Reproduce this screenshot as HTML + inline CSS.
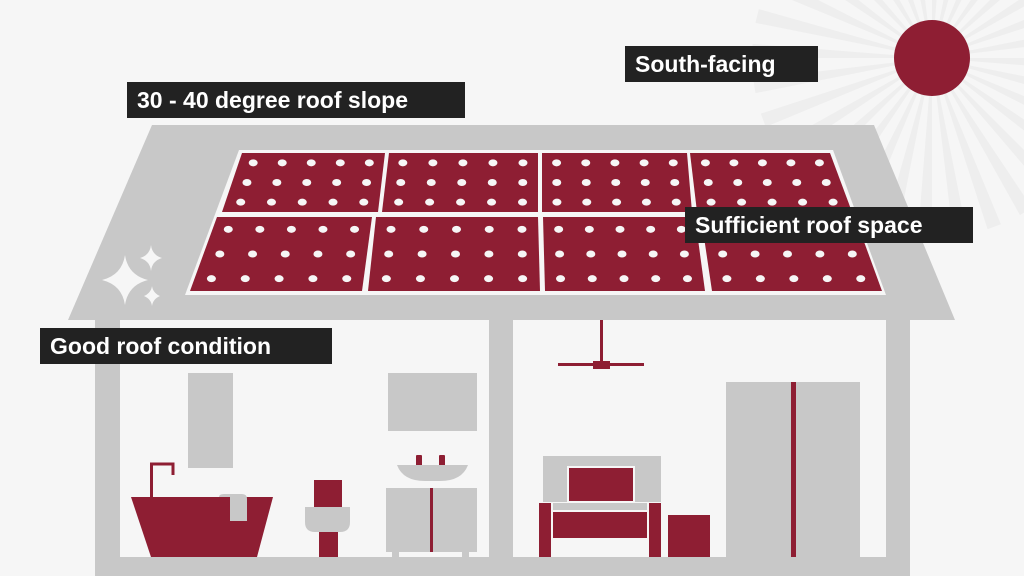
<!DOCTYPE html>
<html><head><meta charset="utf-8"><style>
html,body{margin:0;padding:0;background:#f6f6f6;}
body{width:1024px;height:576px;overflow:hidden;position:relative;font-family:"Liberation Sans",sans-serif;}
.lbl{position:absolute;background:#222;color:#fff;font-weight:bold;font-size:23px;line-height:36px;height:36px;padding:0 10px;box-sizing:border-box;white-space:nowrap;}
</style></head><body>
<svg id="s" width="1024" height="576" viewBox="0 0 1024 576" style="position:absolute;left:0;top:0">
<g id="rays" fill="#eeeeee"></g>
<circle cx="932" cy="58" r="38" fill="#8e1e33"/>
<polygon points="152,125 874,125 955,320 68,320" fill="#c8c8c8"/>
<rect x="95" y="318" width="25" height="258" fill="#c8c8c8"/>
<rect x="489" y="318" width="24" height="258" fill="#c8c8c8"/>
<rect x="886" y="318" width="24" height="258" fill="#c8c8c8"/>
<rect x="95" y="557" width="815" height="19" fill="#c8c8c8"/>
<polygon points="239,150 833,150 886,295 185,295" fill="#f6f6f6"/>
<g id="panels"></g>
<g fill="#f6f6f6">
<path d="M125,255 Q128,275 148,280 Q128,285 125,305 Q122,285 102,280 Q122,275 125,255Z"/>
<path d="M151,245 Q152,255 162,258 Q152,261 151,271 Q150,261 140,258 Q150,255 151,245Z"/>
<path d="M152,286 Q153,293 160,296 Q153,299 152,306 Q151,299 144,296 Q151,293 152,286Z"/>
</g>
<rect x="188" y="373" width="45" height="95" fill="#c8c8c8"/>
<polygon points="131,497 273,497 257,557 151,557" fill="#8e1e33"/>
<path d="M151.5,497 V464 H173 V475" stroke="#8e1e33" stroke-width="3" fill="none"/>
<path d="M219,497 Q219,494 224,494 H242 Q247,494 247,499 V521 H230 V497Z" fill="#c8c8c8"/>
<rect x="314" y="480" width="28" height="28" fill="#8e1e33"/>
<path d="M305,507 H350 V522 Q350,532 340,532 H315 Q305,532 305,522Z" fill="#c8c8c8"/>
<rect x="319" y="532" width="19" height="25" fill="#8e1e33"/>
<rect x="388" y="373" width="89" height="58" fill="#c8c8c8"/>
<rect x="416" y="455" width="6" height="11" rx="1" fill="#8e1e33"/>
<rect x="439" y="455" width="6" height="11" rx="1" fill="#8e1e33"/>
<path d="M397,465 H468 Q462,481 440,481 H425 Q403,481 397,465Z" fill="#c8c8c8"/>
<rect x="386" y="488" width="91" height="64" fill="#c8c8c8"/>
<rect x="392" y="551" width="7" height="6" fill="#c8c8c8"/>
<rect x="462" y="551" width="7" height="6" fill="#c8c8c8"/>
<rect x="430" y="488" width="3" height="64" fill="#8e1e33"/>
<rect x="600" y="320" width="3" height="42" fill="#8e1e33"/>
<rect x="558" y="363" width="86" height="3" fill="#8e1e33"/>
<rect x="593" y="361" width="17" height="8" fill="#8e1e33"/>
<rect x="543" y="456" width="118" height="46" fill="#c8c8c8"/>
<rect x="567" y="466" width="68" height="36" fill="#f6f6f6"/>
<rect x="569" y="468" width="64" height="33" fill="#8e1e33"/>
<rect x="539" y="503" width="12" height="54" fill="#8e1e33"/>
<rect x="649" y="503" width="12" height="54" fill="#8e1e33"/>
<rect x="553" y="503" width="94" height="7" fill="#c8c8c8"/>
<rect x="553" y="512" width="94" height="26" fill="#8e1e33"/>
<rect x="668" y="515" width="42" height="42" fill="#8e1e33"/>
<rect x="726" y="382" width="134" height="175" fill="#c8c8c8"/>
<rect x="791" y="382" width="5" height="175" fill="#8e1e33"/>
</svg>
<div class="lbl" style="left:127px;top:82px;width:338px;">30 - 40 degree roof slope</div>
<div class="lbl" style="left:625px;top:46px;width:193px;">South-facing</div>
<div class="lbl" style="left:685px;top:207px;width:288px;">Sufficient roof space</div>
<div class="lbl" style="left:40px;top:328px;width:292px;">Good roof condition</div>
<script>
var NS="http://www.w3.org/2000/svg";
var rows=[{t:153,b:212,top:[[242,385],[389,538],[542,687],[690,830]],bot:[[222,378],[382,538],[542,692],[697,852]]},
{t:217,b:291,top:[[217,372],[376,538],[543,695],[701,855]],bot:[[190,362],[368,540],[545,705],[712,882]]}];
var g=document.getElementById("panels");
rows.forEach(function(r){for(var c=0;c<4;c++){
var a=r.top[c],b=r.bot[c];
var p=document.createElementNS(NS,"polygon");
p.setAttribute("points",a[0]+","+r.t+" "+a[1]+","+r.t+" "+b[1]+","+r.b+" "+b[0]+","+r.b);
p.setAttribute("fill","#8e1e33");g.appendChild(p);
for(var i=0;i<3;i++){var f=(i+0.5)/3;var y=r.t+(r.b-r.t)*f;
var xl=a[0]+(b[0]-a[0])*f,xr=a[1]+(b[1]-a[1])*f;
for(var j=0;j<5;j++){var x=xl+(xr-xl)*(j+0.5)/5;
var e=document.createElementNS(NS,"ellipse");e.setAttribute("cx",x);e.setAttribute("cy",y);
e.setAttribute("rx",4.5);e.setAttribute("ry",3.5);e.setAttribute("fill","#f6f6f6");g.appendChild(e);}}}});
var rg=document.getElementById("rays");
for(var k=0;k<32;k++){var a1=(k/32)*2*Math.PI,a2=a1+Math.PI/40;var R=180;
var p=document.createElementNS(NS,"polygon");
p.setAttribute("points","932,58 "+(932+R*Math.cos(a1))+","+(58+R*Math.sin(a1))+" "+(932+R*Math.cos(a2))+","+(58+R*Math.sin(a2)));
rg.appendChild(p);}
</script>
</body></html>
